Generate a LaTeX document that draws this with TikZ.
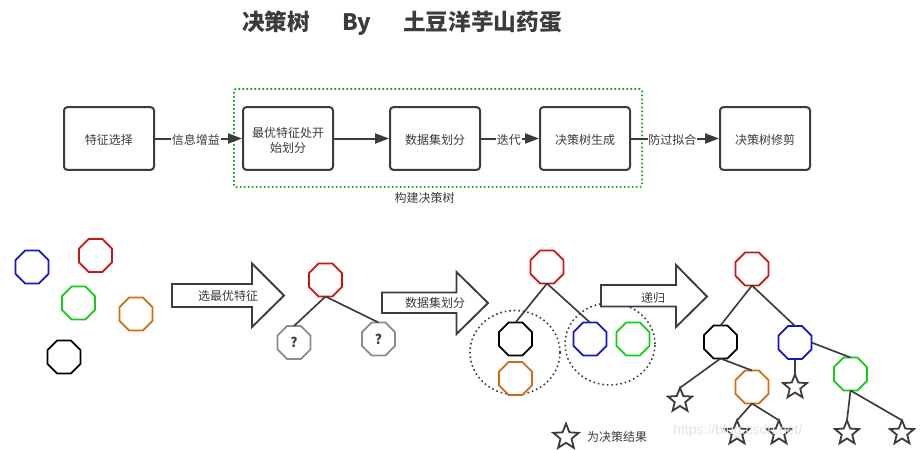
\documentclass[tikz,border=0pt]{standalone}
\usepackage{fontspec}
\setmainfont{Noto Sans CJK SC}
\newfontfamily\wmfont{Liberation Sans}
\usetikzlibrary{shapes.geometric,arrows.meta}
\definecolor{ink}{HTML}{3C3C3C}
\definecolor{cred}{HTML}{CC1414}
\definecolor{cblue}{HTML}{1414CC}
\definecolor{cgreen}{HTML}{14CC14}
\definecolor{corange}{HTML}{CC6E14}
\definecolor{cgray}{HTML}{8C8C8C}
\definecolor{cdot}{HTML}{0EA81E}
\definecolor{wm}{HTML}{E2E2E2}
\tikzset{
  x=0.75pt,y=-0.75pt,
  lab/.style={font=\fontsize{9}{11}\selectfont,text=ink,align=center,inner sep=0.5pt},
  proc/.style={draw=ink,line width=1.5pt,rounded corners=2.5pt,fill=white,minimum width=67.5pt,minimum height=47pt,inner sep=1pt,text width=62pt,text height=10pt,align=center,font=\fontsize{9}{11.5}\selectfont,text=ink},
  flow/.style={draw=ink,line width=1.5pt,-{Triangle[length=10.5pt,width=7.5pt]}},
  elab/.style={lab,fill=white,yshift=-1pt},
  octa/.style={regular polygon,regular polygon sides=8,draw=#1,line width=1.3pt,minimum size=26.8pt,inner sep=0pt,outer sep=0pt,fill=white},
  tip/.style={star,star points=5,star point ratio=2.3,draw=ink,line width=1.35pt,minimum size=19pt,inner sep=0pt,outer sep=0pt,fill=white},
  link/.style={draw=ink,line width=1.25pt},
  block/.style={draw=ink,line width=1.4pt,fill=white},
  ring/.style={draw=ink,line width=1.2pt,dash pattern=on 1.2pt off 2.2pt},
  mark text/.style={font=\wmfont\fontsize{10.5}{12}\selectfont,text=wm,inner sep=0,anchor=west},
}
\begin{document}
\begin{tikzpicture}
\useasboundingbox (0,0) rectangle (922,450);
% title
\node[font=\fontsize{17}{20}\selectfont\bfseries,text=ink,inner sep=0] (title) at (402,23) {决策树\hspace{24pt}By\hspace{24pt}土豆洋芋山药蛋};
% flow
\node[draw=cdot,line width=1.3pt,dash pattern=on 1.2pt off 1.8pt,rounded corners=1.5pt,minimum width=306pt,minimum height=73.5pt,inner sep=0] (group) at (438,138) {};
\node[lab] (grouplab) at (424.5,198) {构建决策树};
\node[proc] (b1) at (109,138.5) {特征选择};
\node[proc] (b2) at (288,138.5) {最优特征处开\\始划分};
\node[proc] (b3) at (435,138.5) {数据集划分};
\node[proc] (b4) at (585,138.5) {决策树生成};
\node[proc] (b5) at (765,138.5) {决策树修剪};
\draw[flow] (b1) -- (b2) node[elab,pos=0.47] (l1) {信息增益};
\draw[flow] (b2) -- (b3);
\draw[flow] (b3) -- (b4) node[elab,pos=0.48] (l2) {迭代};
\draw[flow] (b4) -- (b5) node[elab,pos=0.47] (l3) {防过拟合};
% scattered set
\node[octa=cblue] (sblue) at (32,267) {};
\node[octa=cred] (sred) at (95.5,255.5) {};
\node[octa=cgreen] (sgreen) at (78.5,303) {};
\node[octa=corange] (sorange) at (136,314) {};
\node[octa=black] (sblack) at (64,357) {};
% block arrow 1
\draw[block] (172,284) -- (252,284) -- (252,263.5) -- (284,295.5) -- (252,327) -- (252,307) -- (172,307) -- cycle;
\node[lab] (a1) at (228,296) {选最优特征};
% tree 1
\node[octa=cred] (t1r) at (325.5,280) {};
\node[octa=cgray,font=\fontsize{10}{12}\selectfont\bfseries,text=ink] (t1a) at (294,342.5) {?};
\node[octa=cgray,font=\fontsize{10}{12}\selectfont\bfseries,text=ink] (t1b) at (378.5,339) {?};
\draw[link] (t1r.south) -- (t1a.north);
\draw[link] (t1r.south) -- (t1b.north);
% block arrow 2
\draw[block] (382,292.5) -- (456.5,292.5) -- (456.5,272) -- (488,303) -- (456.5,334) -- (456.5,313) -- (382,313) -- cycle;
\node[lab] (a2) at (435,303) {数据集划分};
% tree 2
\node[ring,ellipse,minimum width=67.5pt,minimum height=63pt,inner sep=0] (c1) at (515,352.5) {};
\node[ring,ellipse,minimum width=67.5pt,minimum height=61.5pt,inner sep=0] (c2) at (610,344) {};
\node[octa=cred] (t2r) at (547,267) {};
\node[octa=black] (t2k) at (515.5,339) {};
\node[octa=corange] (t2o) at (515.5,378.5) {};
\node[octa=cblue] (t2b) at (590,339) {};
\node[octa=cgreen] (t2g) at (633,339) {};
\draw[link] (t2r.south) -- (t2k.north);
\draw[link] (t2r.south) -- (t2b.north);
% block arrow 3
\draw[block] (601,285) -- (676,285) -- (676,265) -- (707,296.5) -- (676,327) -- (676,306.5) -- (601,306.5) -- cycle;
\node[lab] (a3) at (653,298) {递归};
% tree 3
\node[octa=cred] (t3r) at (752,269) {};
\node[octa=black] (t3k) at (720.5,342) {};
\node[octa=cblue] (t3b) at (795,342.5) {};
\node[octa=cgreen] (t3g) at (850.5,374) {};
\node[octa=corange] (t3o) at (752,387) {};
\node[tip] (s1) at (680,400.5) {};
\node[tip] (s2) at (795,387) {};
\node[tip] (s3) at (737,433) {};
\node[tip] (s4) at (779,433) {};
\node[tip] (s5) at (847,433) {};
\node[tip] (s6) at (902,433) {};
\draw[link] (t3r.south) -- (t3k.north);
\draw[link] (t3r.south) -- (t3b.north);
\draw[link] (t3k.south) -- (s1.outer point 1);
\draw[link] (t3k.south) -- (t3o.north);
\draw[link] (t3b.south) -- (s2.outer point 1);
\draw[link] (t3b.east) -- (t3g.north);
\draw[link] (t3o.south) -- (s3.outer point 1);
\draw[link] (t3o.south) -- (s4.outer point 1);
\draw[link] (t3g.south) -- (s5.outer point 1);
\draw[link] (t3g.south) -- (s6.outer point 1);
% legend
\node[tip,minimum size=20pt] (leg) at (566,437) {};
\node[lab] (legt) at (617,437) {为决策结果};
% faint watermark
\node[mark text] (wm1) at (673,431) {https://blog.csdn.net/};
\end{tikzpicture}
\end{document}
